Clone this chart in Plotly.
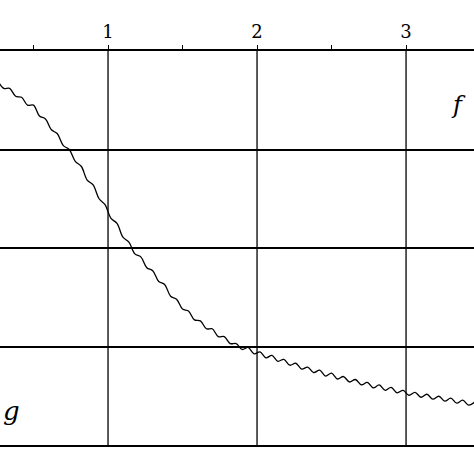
import plotly.graph_objects as go

# curve samples (x, y)
x_vals = [round(0.26 + 0.04 * i, 2) for i in range(81)]
y_vals = [
    3.70, 3.62, 3.62, 3.54, 3.53, 3.45, 3.45, 3.34, 3.31, 3.20,
    3.16, 3.04, 3.00, 2.88, 2.83, 2.69, 2.64, 2.50, 2.44, 2.30,
    2.25, 2.11, 2.06, 1.94, 1.91, 1.80, 1.77, 1.66, 1.63, 1.51,
    1.48, 1.38, 1.36, 1.27, 1.26, 1.18, 1.18, 1.10, 1.10, 1.03,
    1.03, 0.97, 0.99, 0.925, 0.945, 0.885, 0.91, 0.85, 0.87, 0.81,
    0.83, 0.77, 0.79, 0.735, 0.76, 0.70, 0.73, 0.67, 0.695, 0.64,
    0.665, 0.61, 0.635, 0.58, 0.61, 0.555, 0.585, 0.53, 0.555, 0.505,
    0.535, 0.485, 0.515, 0.465, 0.495, 0.445, 0.475, 0.425, 0.455, 0.405,
    0.435,
]
tick_vals = [0.5, 1, 1.5, 2, 2.5, 3]
tick_text = ["", "1", "", "2", "", "3"]

fig = go.Figure()
fig.add_trace(go.Scatter(x=x_vals, y=y_vals, mode="lines", line_shape="spline",
                         line=dict(color="black", width=1.3), showlegend=False))

fig.add_annotation(x=3.35, y=3.45, text="<i>f</i>", showarrow=False,
                   font=dict(family="DejaVu Serif", size=24, color="black"))
fig.add_annotation(x=0.35, y=0.35, text="<i>g</i>", showarrow=False,
                   font=dict(family="DejaVu Serif", size=26, color="black"))

fig.update_layout(
    width=474, height=474, margin=dict(l=0, r=0, t=51, b=29),
    paper_bgcolor="white", plot_bgcolor="white",
    font=dict(family="DejaVu Serif", size=18, color="black"),
    xaxis=dict(range=[0.275, 3.456], side="top", tickvals=tick_vals, ticktext=tick_text,
               ticks="outside", ticklen=4, tickcolor="black", showline=True, mirror=True,
               linecolor="black", linewidth=2, showgrid=False, zeroline=False),
    yaxis=dict(range=[0, 4], tickvals=[1, 2, 3], showticklabels=False, showgrid=True,
               gridcolor="black", gridwidth=1.5, zeroline=False, showline=False),
)
for gx in [1, 2, 3]:
    fig.add_vline(x=gx, line=dict(color="black", width=1.3))

fig.write_html("out.html", config={"displayModeBar": False},
               post_script="document.body.style.margin='0';")
